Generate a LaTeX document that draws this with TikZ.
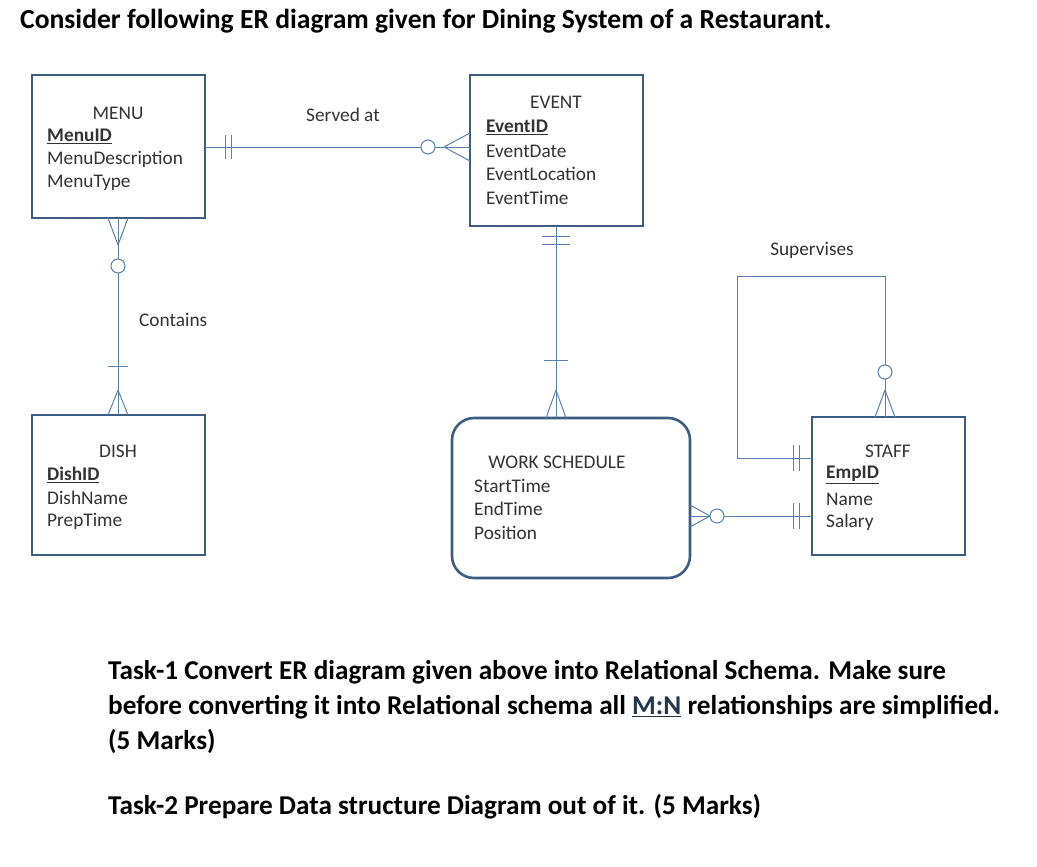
\documentclass[tikz,border=0pt]{standalone}
\usepackage{fontspec}
\setmainfont{Carlito}
\begin{document}
\begin{tikzpicture}[x=1pt,y=-1pt,
  box/.style={draw=boxc,line width=2.6pt},
  ln/.style={draw=linec,line width=1pt},
  t/.style={anchor=west,inner sep=0pt,font=\fontsize{19.3}{22}\selectfont,text=txtc},
  tc/.style={anchor=center,inner sep=0pt,font=\fontsize{19.3}{22}\selectfont,text=txtc},
  big/.style={anchor=west,inner sep=0pt,font=\fontsize{27.2}{30}\selectfont\bfseries}]
\definecolor{boxc}{HTML}{3E5C80}
\definecolor{linec}{HTML}{5A80AE}
\definecolor{txtc}{HTML}{333333}
\useasboundingbox (0,0) rectangle (1037,867);
\fill[white] (0,0) rectangle (1037,867);
\node[big,font=\fontsize{27.6}{30}\selectfont\bfseries] (title) at (20,21) {Consider following ER diagram given for Dining System of a Restaurant.};
% boxes
\draw[box] (32,75) rectangle (205,218);
\coordinate (menuR) at (205,147); \coordinate (menuB) at (118,218);
\draw[box] (470,75) rectangle (643,226);
\coordinate (eventL) at (470,147); \coordinate (eventB) at (556,226);
\draw[box] (32,415) rectangle (205,555);
\coordinate (dishT) at (118,415);
\draw[box,rounded corners=22pt] (452,418) rectangle (690,578);
\coordinate (wsT) at (556,418); \coordinate (wsR) at (690,516);
\draw[box] (812,417) rectangle (965,555);
\coordinate (stL) at (812,516); \coordinate (stL2) at (812,458); \coordinate (stT) at (885,417);
% texts
\node[tc] (m0) at (118,113) {MENU};
\node[t] (m1) at (47,136) {\textbf{\underline{MenuID}}};
\node[t] (m2) at (47,159) {MenuDescription};
\node[t] (m3) at (47,183) {MenuType};
\node[tc] (e0) at (556,102) {EVENT};
\node[t] (e1) at (486,127) {\textbf{\underline{EventID}}};
\node[t] (e2) at (486,151) {EventDate};
\node[t] (e3) at (486,174) {EventLocation};
\node[t] (e4) at (486,198) {EventTime};
\node[tc] (d0) at (118,451) {DISH};
\node[t] (d1) at (47,475) {\textbf{\underline{DishID}}};
\node[t] (d2) at (47,498) {DishName};
\node[t] (d3) at (47,521) {PrepTime};
\node[tc] (w0) at (557,462) {WORK SCHEDULE};
\node[t] (w1) at (474,486) {StartTime};
\node[t] (w2) at (474,509) {EndTime};
\node[t] (w3) at (474,533) {Position};
\node[tc] (s0) at (888,451) {STAFF};
\node[t] (s1) at (826,475) {\textbf{\underline{EmpID}}};
\node[t] (s2) at (826,499) {Name};
\node[t] (s3) at (826,522) {Salary};
\node[tc] (l1) at (343,115) {Served at};
\node[t] (l2) at (139,320) {Contains};
\node[tc] (l3) at (812,250) {Supervises};
% MENU - EVENT
\draw[ln] (menuR) -- (eventL);
\draw[ln] (225,135)--(225,159) (231,135)--(231,159);
\draw[ln,fill=white] (428,147) circle (7);
\draw[ln] (444,147)--(470,133) (444,147)--(470,161);
% MENU - DISH
\draw[ln] (menuB) -- (dishT);
\draw[ln] (118,245)--(108,218) (118,245)--(128,218);
\draw[ln,fill=white] (118,266) circle (7);
\draw[ln] (108,366)--(128,366);
\draw[ln] (118,390)--(108,415) (118,390)--(128,415);
% EVENT - WS
\draw[ln] (eventB) -- (wsT);
\draw[ln] (542,236)--(570,236) (542,244)--(570,244);
\draw[ln] (544,360)--(568,360);
\draw[ln] (556,390)--(546,418) (556,390)--(566,418);
% WS - STAFF
\draw[ln] (wsR) -- (stL);
\draw[ln] (710,516)--(690,505) (710,516)--(690,527);
\draw[ln,fill=white] (717,516) circle (7);
\draw[ln] (793,503)--(793,529) (799,503)--(799,529);
% Supervises
\coordinate (c1) at (737,458); \coordinate (c2) at (737,276); \coordinate (c3) at (885,276);
\draw[ln] (stL2) -- (c1) -- (c2) -- (c3) -- (stT);
\draw[ln] (793,445)--(793,471) (799,445)--(799,471);
\draw[ln,fill=white] (885,372) circle (7);
\draw[ln] (885,390)--(875,417) (885,390)--(895,417);
% tasks
\node[big] (t1) at (108,672) {Task-1 Convert ER diagram given above into Relational Schema. Make sure};
\node[big] (t2) at (108,707) {before converting it into Relational schema all \textcolor{boxc!60!black}{\underline{M:N}} relationships are simplified.};
\node[big] (t3) at (108,741) {(5 Marks)};
\node[big] (t4) at (108,807) {Task-2 Prepare Data structure Diagram out of it. (5 Marks)};
\end{tikzpicture}
\end{document}
